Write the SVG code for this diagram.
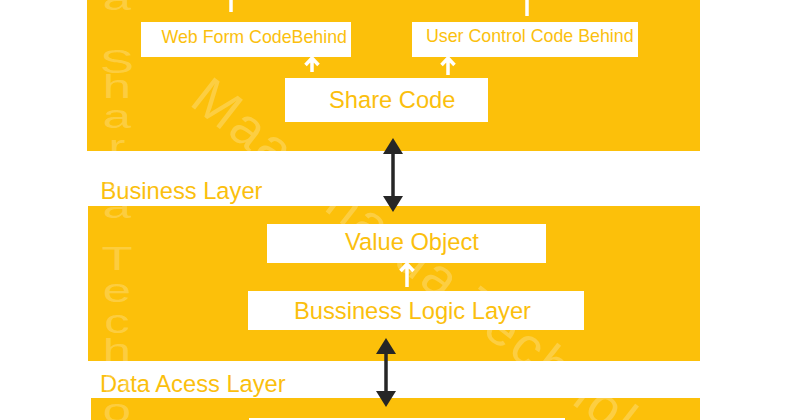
<svg xmlns="http://www.w3.org/2000/svg" width="800" height="420" viewBox="0 0 800 420">
<style>
.panel{fill:#FCC00A}
.box{fill:#FFFFFF}
.lbl{font-family:"Liberation Sans",Arial,sans-serif;fill:#FBBF0E}
.sm{font-size:17.8px}
.lg{font-size:23.7px}
.wm{font-family:"Liberation Sans",Arial,sans-serif;fill:#FFFFFF;fill-opacity:0.23}
.wa{stroke:#FFFFFF;stroke-width:3.5;fill:none}
.ba{stroke:#262626;stroke-width:3.5;fill:none}
</style>
<defs>
<marker id="bh" viewBox="0 0 16 20" refX="4" refY="10" markerWidth="16" markerHeight="20" markerUnits="userSpaceOnUse" orient="auto-start-reverse">
<path d="M0,0 L16,10 L0,20 Z" fill="#262626"/>
</marker>
</defs>
<rect width="800" height="420" fill="#FFFFFF"/>
<g id="presentation-layer">
<rect class="panel" x="87" y="0" width="613" height="151"/>
</g>
<g id="business-layer">
<rect class="panel" x="88" y="206" width="612" height="155"/>
<text class="lbl lg" x="100.5" y="198.5">Business Layer</text>
</g>
<g id="data-access-layer">
<rect class="panel" x="91" y="398" width="609" height="22"/>
<text class="lbl lg" x="100" y="392">Data Acess Layer</text>
</g>
<g id="watermark">
<text class="wm" font-size="34" transform="translate(117,0) scale(1.5,1)" text-anchor="middle"><tspan x="0" y="10">a</tspan><tspan x="0" y="73">S</tspan><tspan x="0" y="98">h</tspan><tspan x="0" y="128">a</tspan><tspan x="0" y="158">r</tspan><tspan x="0" y="188">d</tspan><tspan x="0" y="218">a</tspan><tspan x="0" y="270">T</tspan><tspan x="0" y="302">e</tspan><tspan x="0" y="333">c</tspan><tspan x="0" y="362">h</tspan><tspan x="0" y="392">n</tspan><tspan x="0" y="422">o</tspan></text>
<text class="wm" font-size="54" letter-spacing="3" transform="translate(188,104) rotate(38)">Maa Sharda Technology</text>
</g>
<g id="web-form-codebehind">
<rect class="box" x="141" y="22" width="210" height="35"/>
<text class="lbl sm" x="161.5" y="43">Web Form CodeBehind</text>
</g>
<g id="user-control-code-behind">
<rect class="box" x="412" y="22" width="226" height="35"/>
<text class="lbl sm" x="426" y="42">User Control Code Behind</text>
</g>
<g id="share-code">
<rect class="box" x="285" y="78" width="203" height="44"/>
<text class="lbl lg" x="329" y="108">Share Code</text>
</g>
<g id="value-object">
<rect class="box" x="267" y="224" width="279" height="39"/>
<text class="lbl lg" x="345" y="250">Value Object</text>
</g>
<g id="bussiness-logic-layer">
<rect class="box" x="248" y="291" width="336" height="39"/>
<text class="lbl lg" x="294" y="318.5">Bussiness Logic Layer</text>
</g>
<g id="data-access-box">
<rect class="box" x="249" y="418" width="316" height="10"/>
</g>
<g id="connectors">
<line class="wa" x1="231" y1="0" x2="231" y2="12" stroke-width="5"/>
<line class="wa" x1="527" y1="0" x2="527" y2="16" stroke-width="5"/>
<path class="wa" d="M312,72 V58 M305.5,65 L312,58 L318.5,65"/>
<path class="wa" d="M448,75 V58 M441.5,65 L448,58 L454.5,65"/>
<path class="wa" d="M407,287 V264 M400.5,271 L407,264 L413.5,271"/>
<line class="ba" x1="393" y1="150" x2="393" y2="200" marker-start="url(#bh)" marker-end="url(#bh)"/>
<line class="ba" x1="386" y1="350" x2="386" y2="395" marker-start="url(#bh)" marker-end="url(#bh)"/>
</g>
</svg>
